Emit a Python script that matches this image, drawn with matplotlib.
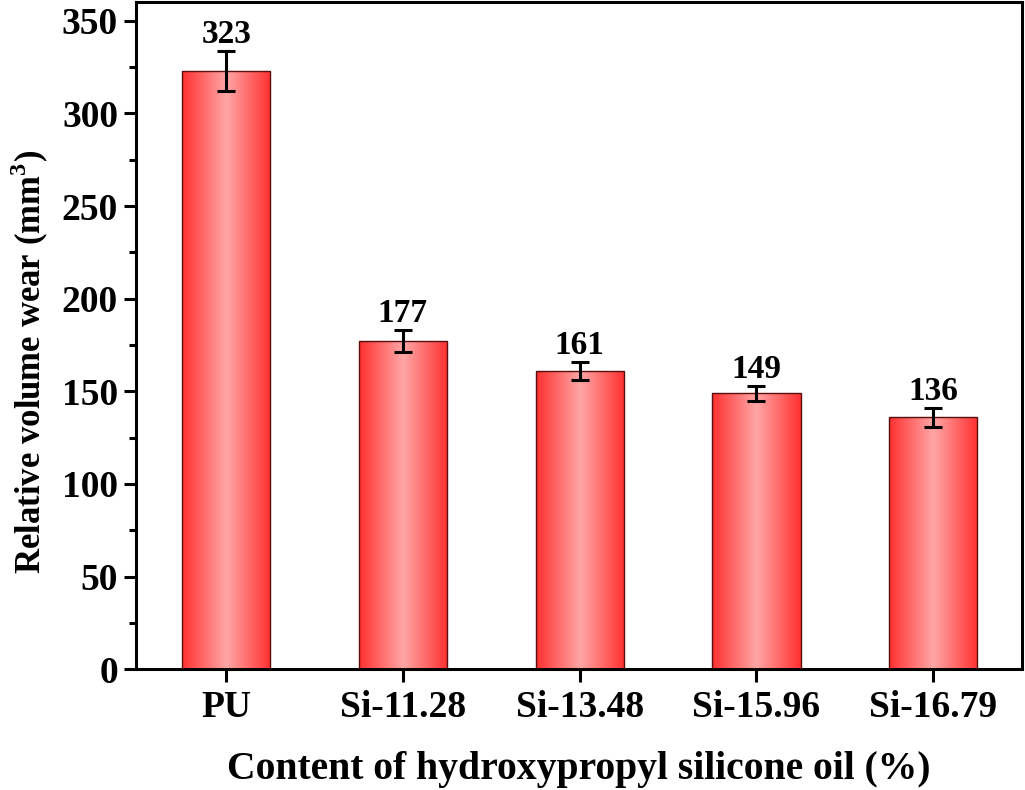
import numpy as np
import matplotlib
matplotlib.use("Agg")
import matplotlib.pyplot as plt
from matplotlib.colors import LinearSegmentedColormap
from matplotlib.ticker import MultipleLocator

plt.rcParams['font.family'] = ['Liberation Serif', 'DejaVu Serif']
plt.rcParams['font.weight'] = 'bold'
plt.rcParams['mathtext.fontset'] = 'custom'
plt.rcParams['mathtext.rm'] = 'Liberation Serif:bold'

# data
categories = ['PU', 'Si-11.28', 'Si-13.48', 'Si-15.96', 'Si-16.79']
wear = [323, 177, 161, 149, 136]
wear_err = [11, 6, 5, 4, 5]
labels = ['323', '177', '161', '149', '136']

fig = plt.figure(figsize=(10.25, 7.9), dpi=100)
ax = fig.add_axes([0.1327, 0.153, 0.864, 0.844])

x = np.arange(1, len(categories) + 1)
bars = ax.bar(x, wear, width=0.5, color='none', edgecolor='#5a0e0e', linewidth=1.0, zorder=3)

# horizontal gradient inside each bar: red edges, pink centre
cmap = LinearSegmentedColormap.from_list('redpink', ['#ff3030', '#ffa6a6', '#ff3030'])
grad = np.linspace(0, 1, 256).reshape(1, -1)
for b in bars:
    x0, w, h = b.get_x(), b.get_width(), b.get_height()
    im = ax.imshow(grad, cmap=cmap, aspect='auto', extent=[x0, x0 + w, 0, h], zorder=2)
    im.set_clip_path(b)

ax.errorbar(x, wear, yerr=wear_err, fmt='none', ecolor='black', elinewidth=2.2,
            capsize=6.5, capthick=2.2, zorder=4)

for xi, v, e, t in zip(x, wear, wear_err, labels):
    ax.text(xi, v + e + 0.5, t, ha='center', va='bottom', fontsize=24, fontweight='bold')

ax.set_xlim(0.49, 5.5)
ax.set_ylim(0, 360)
ax.set_xticks(x)
ax.set_xticklabels(categories)
ax.yaxis.set_major_locator(MultipleLocator(50))
ax.yaxis.set_minor_locator(MultipleLocator(25))

for s in ax.spines.values():
    s.set_linewidth(2.2)

ax.tick_params(axis='both', which='major', direction='out', length=9, width=2.2, labelsize=27)
ax.tick_params(axis='y', which='minor', direction='out', length=5, width=2.2)
ax.tick_params(axis='x', pad=6)
ax.tick_params(axis='y', pad=4)

ax.set_xlabel('Content of hydroxypropyl silicone oil (%)', fontsize=28.5, fontweight='bold', labelpad=19)
ax.set_ylabel('Relative volume wear (mm$^3$)', fontsize=25, fontweight='bold', labelpad=8)
ax.yaxis.label.set_y(0.46)

fig.savefig('out.png', dpi=100)
